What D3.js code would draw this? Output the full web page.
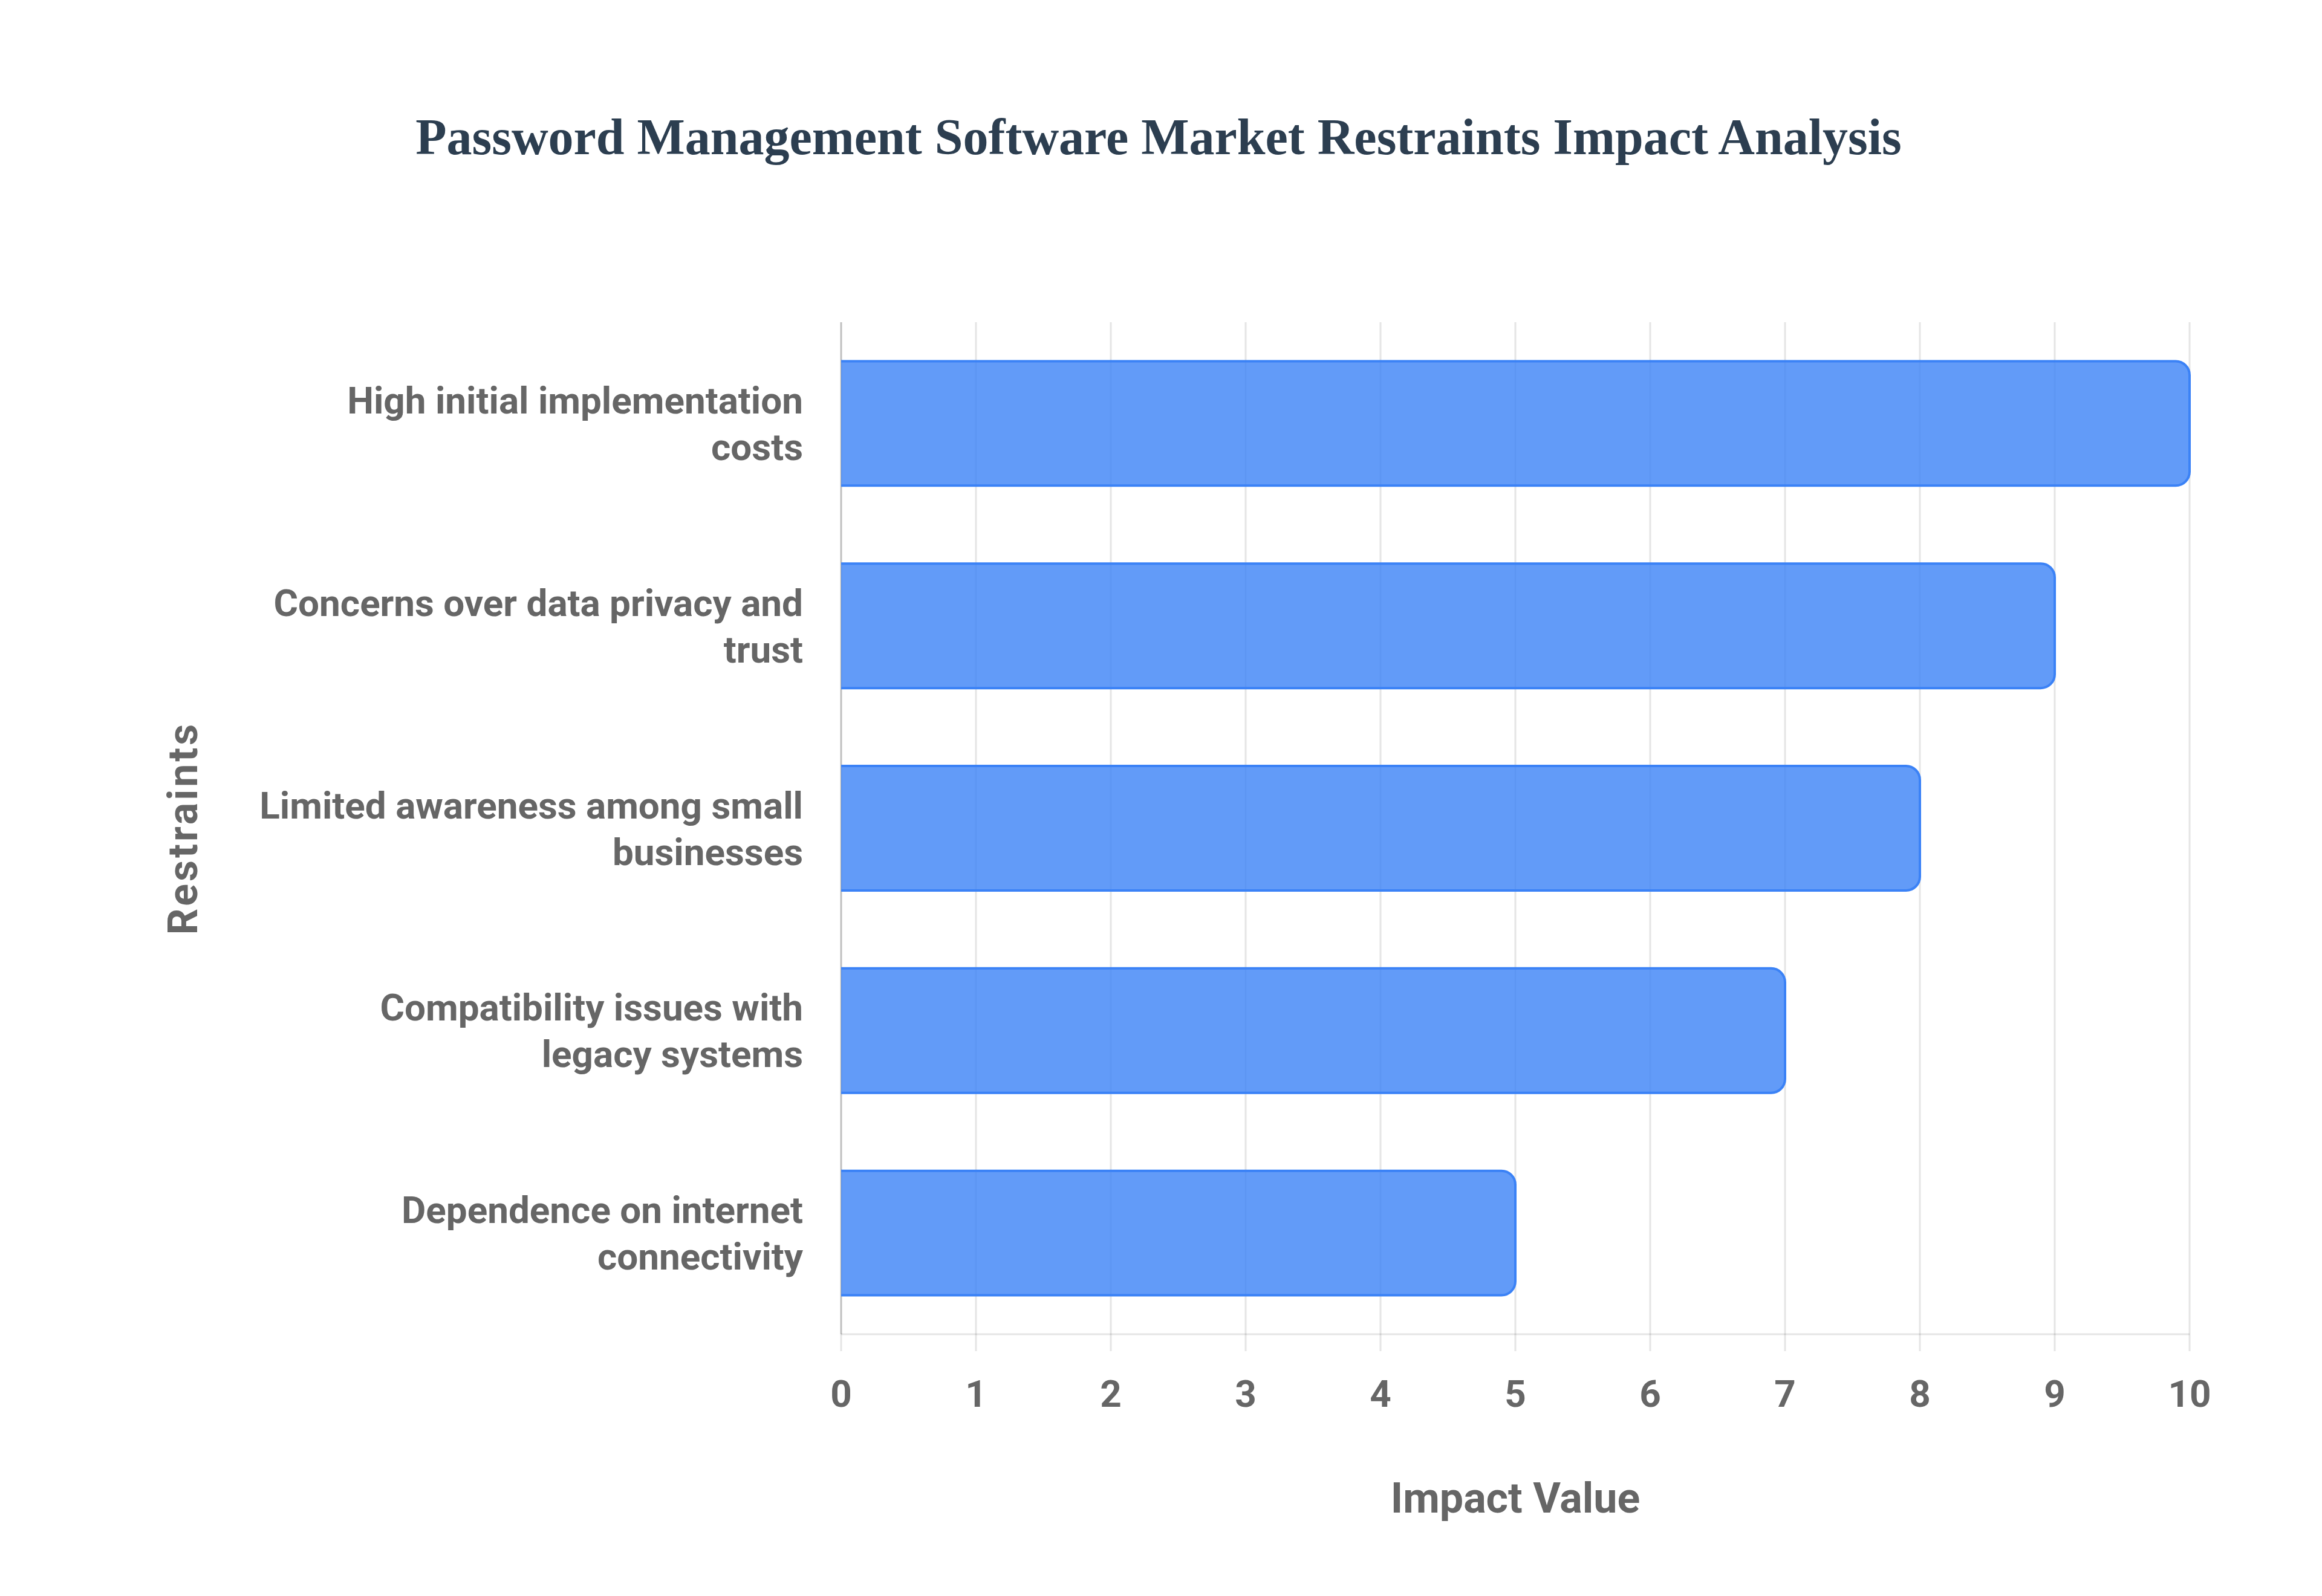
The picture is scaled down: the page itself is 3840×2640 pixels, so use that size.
<!DOCTYPE html>
<html>
<head>
<meta charset="utf-8">
<script src="https://cdn.jsdelivr.net/npm/d3@7"></script>
<style>
  html, body { margin: 0; padding: 0; background: #fff; }
  svg { display: block; }
</style>
</head>
<body>
<div id="chart"></div>
<script>
(function() {
// chart data
const restraints = [
  ['High initial implementation', 'costs'],
  ['Concerns over data privacy and', 'trust'],
  ['Limited awareness among small', 'businesses'],
  ['Compatibility issues with', 'legacy systems'],
  ['Dependence on internet', 'connectivity']
];
const impactValues = [10, 9, 8, 7, 5];
const xTicks = [0, 1, 2, 3, 4, 5, 6, 7, 8, 9, 10];

const titleText = 'Password Management Software Market Restraints Impact Analysis';
const xTitle = 'Impact Value';
const yTitle = 'Restraints';

// svg params
const W = 3840, H = 2640;
const margin = { top: 533, right: 219, bottom: 433, left: 1391 };
const width = W - margin.left - margin.right;
const height = H - margin.top - margin.bottom;

const sans = 'Roboto, "Liberation Sans", Arial, sans-serif';
const labelColor = '#666';

let svg = d3.select('#chart')
  .append('svg')
  .attr('width', W)
  .attr('height', H);

svg.append('rect').attr('width', W).attr('height', H).attr('fill', '#fff');

// title
svg.append('text')
  .attr('x', 1916)
  .attr('y', 255)
  .attr('text-anchor', 'middle')
  .attr('font-family', '"Times New Roman", "Liberation Serif", serif')
  .attr('font-weight', 'bold')
  .attr('font-size', 84)
  .attr('fill', '#2c3e50')
  .text(titleText);

let g = svg.append('g')
  .attr('transform', 'translate(' + margin.left + ',' + margin.top + ')');

// scales
let x = d3.scaleLinear()
  .domain([0, 10])
  .range([0, width]);

let y = d3.scaleBand()
  .domain(restraints.map((d, i) => i))
  .range([0, height])
  .paddingInner(0.385)
  .paddingOuter(0.1925);

// vertical grid lines (with tick marks below the axis)
g.append('g')
  .selectAll('line')
  .data(xTicks)
  .enter()
  .append('line')
  .attr('x1', d => x(d))
  .attr('x2', d => x(d))
  .attr('y1', 0)
  .attr('y2', height + 28)
  .attr('stroke', 'rgba(0,0,0,0.1)')
  .attr('stroke-width', 3);

// axis borders
g.append('line')
  .attr('x1', 0).attr('x2', width)
  .attr('y1', height).attr('y2', height)
  .attr('stroke', 'rgba(0,0,0,0.1)')
  .attr('stroke-width', 3);

g.append('line')
  .attr('x1', 0).attr('x2', 0)
  .attr('y1', 0).attr('y2', height)
  .attr('stroke', 'rgba(0,0,0,0.16)')
  .attr('stroke-width', 3);

// bars, rounded on the end side only
const r = 23;
function barPath(v, i) {
  let x0 = 0, x1 = x(v);
  let y0 = y(i), y1 = y(i) + y.bandwidth();
  let rr = Math.min(r, (x1 - x0) / 2, (y1 - y0) / 2);
  return 'M' + x0 + ',' + y0 +
    'H' + (x1 - rr) +
    'A' + rr + ',' + rr + ' 0 0 1 ' + x1 + ',' + (y0 + rr) +
    'V' + (y1 - rr) +
    'A' + rr + ',' + rr + ' 0 0 1 ' + (x1 - rr) + ',' + y1 +
    'H' + x0;
}

g.append('g')
  .selectAll('path')
  .data(impactValues)
  .enter()
  .append('path')
  .attr('d', (d, i) => barPath(d, i))
  .attr('fill', 'rgba(59,130,246,0.8)')
  .attr('stroke', 'rgb(59,130,246)')
  .attr('stroke-width', 4)
  .attr('stroke-linejoin', 'round');

// x tick labels
g.append('g')
  .selectAll('text')
  .data(xTicks)
  .enter()
  .append('text')
  .attr('x', d => x(d))
  .attr('y', height + 120)
  .attr('text-anchor', 'middle')
  .attr('font-family', sans)
  .attr('font-weight', 'bold')
  .attr('font-size', 62)
  .attr('fill', labelColor)
  .text(d => d);

// y category labels (two lines each)
const lineH = 77;
let labels = g.append('g')
  .selectAll('text')
  .data(restraints)
  .enter()
  .append('text')
  .attr('text-anchor', 'end')
  .attr('font-family', sans)
  .attr('font-weight', 'bold')
  .attr('font-size', 62)
  .attr('fill', labelColor)
  .attr('transform', (d, i) => {
    let cy = y(i) + y.bandwidth() / 2;
    return 'translate(-63,' + (cy - (d.length - 1) * lineH / 2 + 22) + ')';
  });

labels.selectAll('tspan')
  .data(d => d)
  .enter()
  .append('tspan')
  .attr('x', 0)
  .attr('y', (d, i) => i * lineH)
  .text(d => d);

// axis titles
svg.append('text')
  .attr('x', margin.left + width / 2)
  .attr('y', 2502)
  .attr('text-anchor', 'middle')
  .attr('font-family', sans)
  .attr('font-weight', 'bold')
  .attr('font-size', 70)
  .attr('fill', labelColor)
  .text(xTitle);

svg.append('text')
  .attr('transform', 'translate(326,1370) rotate(-90)')
  .attr('text-anchor', 'middle')
  .attr('font-family', sans)
  .attr('font-weight', 'bold')
  .attr('font-size', 68)
  .attr('letter-spacing', 4)
  .attr('fill', labelColor)
  .text(yTitle);
})();
</script>
</body>
</html>
